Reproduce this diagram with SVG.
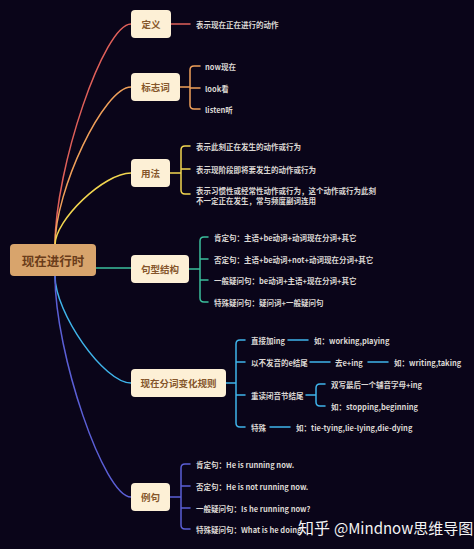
<svg xmlns="http://www.w3.org/2000/svg" width="474" height="549" viewBox="0 0 474 549">
<style>
.bg{fill:#0a0519}
.node rect{fill:#fdf0d6}
.node text{font-family:"Noto Sans CJK SC","Noto Sans",sans-serif;font-size:9.5px;font-weight:700;fill:#85562b;text-anchor:middle;dominant-baseline:central}
.root rect{fill:#d8a46c}
.root text{font-family:"Noto Sans CJK SC","Noto Sans",sans-serif;font-size:12.5px;font-weight:700;fill:#6a3c1a;text-anchor:middle;dominant-baseline:central}
.leaf{font-family:"Noto Sans CJK SC","Noto Sans",sans-serif;font-size:7.5px;font-weight:700;fill:#dcd8d4;dominant-baseline:central}
.c{fill:none;stroke-width:1.5;stroke-linecap:round}
.red{stroke:#e0605a}.org{stroke:#f0a05a}.yel{stroke:#f2d650}.tea{stroke:#3bbf9c}.blu{stroke:#3fb4ea}.vio{stroke:#5b5fd6}
.wm{font-family:"Noto Sans CJK SC",sans-serif;fill:#f4f4f4}
</style>
<rect class="bg" x="0" y="0" width="474" height="549"/>
<g id="connectors">
<path class="c red" d="M55,245 C55,168 104,24 131,24"/>
<path class="c org" d="M55,245 C55,190 104,87 131,87"/>
<path class="c yel" d="M55,245 C55,220 104,173 131,173"/>
<path class="c tea" d="M96,268 H131"/>
<path class="c blu" d="M55,276 C55,313 104,383 131,383"/>
<path class="c vio" d="M55,276 C55,353 104,497 131,497"/>
<path class="c red" d="M171,24 H190"/>
<path class="c org" d="M180,87 H190 M200,66 H194 Q190,66 190,70 V105 Q190,109 194,109 H200 M190,88 H200"/>
<path class="c yel" d="M170,173 H181 M190,146 H185 Q181,146 181,150 V190 Q181,194 185,194 H190 M181,169 H190"/>
<path class="c tea" d="M189,269 H200 M208,237 H204 Q200,237 200,241 V298 Q200,302 204,302 H208 M200,259 H208 M200,280 H208"/>
<path class="c blu" d="M226,383 H236 M245,340 H240 Q236,340 236,344 V423 Q236,427 240,427 H245 M236,362 H245 M236,395 H245"/>
<path class="c blu" d="M288,340 H308 M310,362 H330 M368,362 H388 M306,395 H316 M325,384 H320 Q316,384 316,388 V402 Q316,406 320,406 H325 M270,427 H290"/>
<path class="c vio" d="M170,497 H181 M190,464 H185 Q181,464 181,468 V525 Q181,529 185,529 H190 M181,486 H190 M181,508 H190"/>
</g>
<g id="root" class="root"><rect x="10" y="244" width="86" height="32" rx="4"/><text x="53" y="260">现在进行时</text></g>
<g id="n-dingyi" class="node"><rect x="131" y="10" width="40" height="28" rx="4"/><text x="151" y="24">定义</text></g>
<g id="n-biaozhici" class="node"><rect x="131" y="73" width="49" height="28" rx="4"/><text x="155.5" y="87">标志词</text></g>
<g id="n-yongfa" class="node"><rect x="131" y="159" width="39" height="28" rx="4"/><text x="150.5" y="173">用法</text></g>
<g id="n-juxing" class="node"><rect x="131" y="255" width="58" height="28" rx="4"/><text x="160" y="269">句型结构</text></g>
<g id="n-fenci" class="node"><rect x="131" y="369" width="95" height="28" rx="4"/><text x="178.5" y="383">现在分词变化规则</text></g>
<g id="n-liju" class="node"><rect x="131" y="483" width="39" height="28" rx="4"/><text x="150.5" y="497">例句</text></g>
<g id="leaves">
<text class="leaf" x="196" y="24">表示现在正在进行的动作</text>
<text class="leaf" x="205" y="66">now现在</text>
<text class="leaf" x="205" y="88">look看</text>
<text class="leaf" x="205" y="109">listen听</text>
<text class="leaf" x="196" y="146">表示此刻正在发生的动作或行为</text>
<text class="leaf" x="196" y="169">表示现阶段即将要发生的动作或行为</text>
<text class="leaf" x="196" y="190">表示习惯性或经常性动作或行为，这个动作或行为此刻</text>
<text class="leaf" x="196" y="200">不一定正在发生，常与频度副词连用</text>
<text class="leaf" x="214" y="237">肯定句：主语+be动词+动词现在分词+其它</text>
<text class="leaf" x="214" y="259">否定句：主语+be动词+not+动词现在分词+其它</text>
<text class="leaf" x="214" y="280">一般疑问句：be动词+主语+现在分词+其它</text>
<text class="leaf" x="214" y="302">特殊疑问句：疑问词+一般疑问句</text>
<text class="leaf" x="251" y="340">直接加ing</text>
<text class="leaf" x="314" y="340">如：working,playing</text>
<text class="leaf" x="251" y="362">以不发音的e结尾</text>
<text class="leaf" x="335" y="362">去e+ing</text>
<text class="leaf" x="394" y="362">如：writing,taking</text>
<text class="leaf" x="251" y="395">重读闭音节结尾</text>
<text class="leaf" x="331" y="384">双写最后一个辅音字母+ing</text>
<text class="leaf" x="331" y="406">如：stopping,beginning</text>
<text class="leaf" x="251" y="427">特殊</text>
<text class="leaf" x="296" y="427">如：tie-tying,lie-lying,die-dying</text>
<text class="leaf" x="196" y="464">肯定句：He is running now.</text>
<text class="leaf" x="196" y="486">否定句：He is not running now.</text>
<text class="leaf" x="196" y="508">一般疑问句：Is he running now?</text>
<text class="leaf" x="196" y="529">特殊疑问句：What is he doing</text>
</g>
<g id="watermark">
<text class="wm" x="298" y="534" font-size="16">知乎</text>
<text class="wm" x="334" y="534" font-size="15">@Mindnow思维导图</text>
</g>
</svg>
